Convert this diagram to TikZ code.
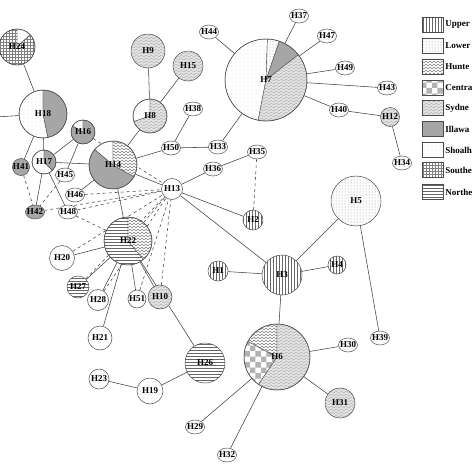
\documentclass[tikz,border=0pt]{standalone}
\usepackage{fontspec}
\setmainfont{Liberation Serif}
\usetikzlibrary{patterns,backgrounds,shapes.geometric,positioning}
\pgfdeclarelayer{pie}
\pgfsetlayers{background,pie,main}

% own fill patterns
\pgfdeclarepatternformonly{sparse dots}{\pgfqpoint{-1pt}{-1pt}}{\pgfqpoint{1pt}{1pt}}{\pgfqpoint{4pt}{4pt}}%
  {\pgfpathcircle{\pgfqpoint{0pt}{0pt}}{.35pt}\pgfusepath{fill}}
\pgfdeclarepatternformonly{zigzag}{\pgfqpoint{0pt}{-.5pt}}{\pgfqpoint{4pt}{3.5pt}}{\pgfqpoint{4pt}{3pt}}%
  {\pgfsetlinewidth{.4pt}\pgfpathmoveto{\pgfqpoint{0pt}{0pt}}\pgfpathlineto{\pgfqpoint{2pt}{2pt}}%
   \pgfpathlineto{\pgfqpoint{4pt}{0pt}}\pgfusepath{stroke}}
\pgfdeclarepatternformonly{waves}{\pgfqpoint{0pt}{-.5pt}}{\pgfqpoint{5pt}{3.5pt}}{\pgfqpoint{5pt}{3pt}}%
  {\pgfsetlinewidth{.35pt}\pgfpathmoveto{\pgfqpoint{0pt}{1pt}}%
   \pgfpathcurveto{\pgfqpoint{1.2pt}{2.4pt}}{\pgfqpoint{1.3pt}{2.4pt}}{\pgfqpoint{2.5pt}{1pt}}%
   \pgfpathcurveto{\pgfqpoint{3.7pt}{-.4pt}}{\pgfqpoint{3.8pt}{-.4pt}}{\pgfqpoint{5pt}{1pt}}\pgfusepath{stroke}}

\tikzset{
  upper/.style={preaction={fill=white}, pattern=vertical lines, pattern color=black!60},
  lower/.style={preaction={fill=white}, pattern=dots, pattern color=black!45},
  hunter/.style={preaction={fill=white}, pattern=zigzag, pattern color=black!50},
  central/.style={preaction={fill=white}, pattern=checkerboard, pattern color=black!30},
  sydney/.style={preaction={fill=black!10}, pattern=waves, pattern color=black!35},
  illa/.style={fill=black!35},
  shoal/.style={preaction={fill=white}, pattern=sparse dots, pattern color=black!40},
  southern/.style={preaction={fill=white}, pattern=grid, pattern color=black!50},
  northern/.style={preaction={fill=white}, pattern=horizontal lines, pattern color=black!60},
}

% one slice of a pie node: node, radius, from, to, fill
\newcommand{\slice}[5]{\path[#5, draw=black!70, line width=.4pt] (#1.center) -- ++(#3:#2)
  arc[start angle=#3, end angle=#4, radius=#2] -- cycle;}

\begin{document}
\begin{tikzpicture}[x=1pt, y=1pt,
    every node/.style={font=\fontsize{9}{9}\selectfont\bfseries},
    hap/.style={circle, draw=black!70, line width=.5pt, inner sep=-1pt, minimum size=2*#1},
    sm/.style={ellipse, draw=black!70, line width=.5pt, inner sep=-2pt, minimum width=19pt, minimum height=14pt},
    link/.style={draw=black!75, line width=.55pt},
    dlink/.style={link, dashed},
    legbox/.style={draw=black!70, line width=.5pt, minimum width=21pt, minimum height=15pt, inner sep=0pt}]
  \useasboundingbox (0,0) rectangle (474,-474);
  \clip (0,0) rectangle (474,-474);

  % pie nodes
  \node[hap=18] (H24) at (17,-47) {H24};
  \node[hap=41] (H7) at (266,-80) {H7};
  \node[hap=17] (H8) at (150,-116) {H8};
  \node[hap=24] (H18) at (43,-114) {H18};
  \node[hap=12] (H16) at (83,-132) {H16};
  \node[hap=12] (H17) at (44,-162) {H17};
  \node[hap=24] (H14) at (113,-165) {H14};
  \node[hap=24] (H22) at (128,-241) {H22};
  \node[hap=33] (H6) at (277,-357) {H6};

  % one-colour nodes
  \node[hap=17, sydney] (H9) at (148,-51) {H9};
  \node[hap=15, sydney] (H15) at (188,-66) {H15};
  \node[sm, shoal] (H44) at (209,-32) {H44};
  \node[sm, shoal] (H37) at (299,-16) {H37};
  \node[sm, shoal] (H47) at (327,-36) {H47};
  \node[sm, shoal] (H49) at (345,-68) {H49};
  \node[sm, shoal] (H43) at (387,-88) {H43};
  \node[sm, shoal] (H40) at (339,-110) {H40};
  \node[hap=9.5, sydney] (H12) at (390,-117) {H12};
  \node[sm, shoal] (H34) at (402,-163) {H34};
  \node[sm, shoal] (H38) at (193,-109) {H38};
  \node[sm, shoal] (H50) at (171,-148) {H50};
  \node[sm, shoal] (H33) at (218,-147) {H33};
  \node[sm, shoal] (H35) at (257,-152) {H35};
  \node[sm, shoal] (H36) at (213,-169) {H36};
  \node[hap=10.5, shoal] (H13) at (172,-189) {H13};
  \node[hap=10, upper] (H2) at (253,-220) {H2};
  \node[hap=20, upper] (H3) at (282,-275) {H3};
  \node[hap=10, upper] (H1) at (218,-271) {H1};
  \node[hap=9, upper] (H4) at (337,-265) {H4};
  \node[hap=25, lower] (H5) at (356,-201) {H5};
  \node[sm, shoal] (H39) at (380,-338) {H39};
  \node[sm, shoal] (H30) at (348,-345) {H30};
  \node[hap=15, sydney] (H31) at (340,-403) {H31};
  \node[sm, shoal] (H29) at (195,-427) {H29};
  \node[sm, shoal] (H32) at (227,-455) {H32};
  \node[hap=20, northern] (H26) at (205,-363) {H26};
  \node[hap=13, shoal] (H19) at (150,-391) {H19};
  \node[hap=10, shoal] (H23) at (99,-379) {H23};
  \node[hap=12, shoal] (H21) at (100,-338) {H21};
  \node[hap=12.5, shoal] (H20) at (62,-258) {H20};
  \node[hap=11, northern] (H27) at (78,-287) {H27};
  \node[hap=10.5, shoal] (H28) at (98,-300) {H28};
  \node[hap=9, shoal] (H51) at (137,-299) {H51};
  \node[hap=12, sydney] (H10) at (160,-297) {H10};
  \node[hap=8.5, illa] (H41) at (21,-167) {H41};
  \node[sm, illa] (H42) at (35,-212) {H42};
  \node[sm, shoal] (H45) at (65,-175) {H45};
  \node[sm, shoal] (H46) at (75,-195) {H46};
  \node[sm, shoal] (H48) at (68,-212) {H48};
  \coordinate (off) at (-4,-117);

  % slices
  \begin{pgfonlayer}{pie}
    \slice{H24}{18pt}{43}{90}{shoal}
    \slice{H24}{18pt}{90}{403}{southern}
    \slice{H7}{41pt}{88}{259}{shoal}
    \slice{H7}{41pt}{71}{88}{lower}
    \slice{H7}{41pt}{38}{71}{illa}
    \slice{H7}{41pt}{-101}{38}{sydney}
    \slice{H8}{17pt}{90}{199}{shoal}
    \slice{H8}{17pt}{199}{450}{sydney}
    \slice{H18}{24pt}{90}{282}{shoal}
    \slice{H18}{24pt}{-78}{90}{illa}
    \slice{H16}{12pt}{90}{150}{shoal}
    \slice{H16}{12pt}{150}{450}{illa}
    \slice{H17}{12pt}{90}{315}{shoal}
    \slice{H17}{12pt}{-45}{90}{illa}
    \slice{H14}{24pt}{90}{140}{shoal}
    \slice{H14}{24pt}{140}{331}{illa}
    \slice{H14}{24pt}{-29}{90}{hunter}
    \slice{H22}{24pt}{90}{310}{northern}
    \slice{H22}{24pt}{-50}{90}{hunter}
    \slice{H6}{33pt}{90}{152}{hunter}
    \slice{H6}{33pt}{152}{236}{central}
    \slice{H6}{33pt}{236}{450}{sydney}
  \end{pgfonlayer}

  % connectors
  \begin{scope}[on background layer]
    \draw[link] (H24) -- (H18);
    \draw[link] (off) -- (H18);
    \draw[link] (H18) -- (H41);
    \draw[link] (H18) -- (H17);
    \draw[link] (H16) -- (H17);
    \draw[link] (H16) -- (H45);
    \draw[link] (H17) -- (H14);
    \draw[link] (H17) -- (H42);
    \draw[link] (H17) -- (H48);
    \draw[link] (H46) -- (H14);
    \draw[link] (H14) -- (H8);
    \draw[link] (H9) -- (H8.center);
    \draw[link] (H15) -- (H8);
    \draw[link] (H14) -- (H50);
    \draw[link] (H50) -- (H38);
    \draw[link] (H50) -- (H33);
    \draw[link] (H33) -- (H7);
    \draw[link] (H7) -- (H44);
    \draw[link] (H7) -- (H37);
    \draw[link] (H7) -- (H47);
    \draw[link] (H7) -- (H49);
    \draw[link] (H7) -- (H43);
    \draw[link] (H7) -- (H40);
    \draw[link] (H40) -- (H12);
    \draw[link] (H12) -- (H34);
    \draw[link] (H14) -- (H13);
    \draw[link] (H14) -- (H22);
    \draw[link] (H13) -- (H36);
    \draw[link] (H36) -- (H35);
    \draw[link] (H13) -- (H2);
    \draw[link] (H13) -- (H3);
    \draw[link] (H3) -- (H1);
    \draw[link] (H3) -- (H4);
    \draw[link] (H3) -- (H5);
    \draw[link] (H5) -- (H39);
    \draw[link] (H3) -- (H6);
    \draw[link] (H6) -- (H30);
    \draw[link] (H6) -- (H31);
    \draw[link] (H6) -- (H29);
    \draw[link] (H6) -- (H32);
    \draw[link] (H22) -- (H20);
    \draw[link] (H22) -- (H27);
    \draw[link] (H22) -- (H28);
    \draw[link] (H22) -- (H21);
    \draw[link] (H22) -- (H51);
    \draw[link] (H22) -- (H10);
    \draw[link] (H22) -- (H26);
    \draw[link] (H26) -- (H19);
    \draw[link] (H19) -- (H23);
    % alternative links
    \draw[dlink] (H35) -- (H2);
    \draw[dlink] (H41) -- (H42);
    \draw[dlink] (H45) -- (H42);
    \draw[dlink] (H48) -- (H22);
    \draw[dlink] (H16) -- (H13);
    \draw[dlink] (H46) -- (H13);
    \draw[dlink] (H48) -- (H13);
    \draw[dlink] (H42) -- (H13);
    \draw[dlink] (H22) -- (H13);
    \draw[dlink] (H20) -- (H13);
    \draw[dlink] (H27) -- (H13);
    \draw[dlink] (H28) -- (H13);
    \draw[dlink] (H51) -- (H13);
    \draw[dlink] (H10) -- (H13);
  \end{scope}

  % legend
  \node[legbox, upper] (lupper) at (432.5,-25) {};
  \node[legbox, lower] (llower) at (432.5,-46) {};
  \node[legbox, hunter] (lhunter) at (432.5,-67) {};
  \node[legbox, central] (lcentral) at (432.5,-88) {};
  \node[legbox, sydney] (lsydney) at (432.5,-108) {};
  \node[legbox, illa] (lilla) at (432.5,-129) {};
  \node[legbox, shoal] (lshoal) at (432.5,-150) {};
  \node[legbox, southern] (lsouth) at (432.5,-170) {};
  \node[legbox, northern] (lnorth) at (432.5,-192) {};
  \node[right=2pt of lupper, inner sep=0pt] {Upper};
  \node[right=2pt of llower, inner sep=0pt] {Lower};
  \node[right=2pt of lhunter, inner sep=0pt] {Hunte};
  \node[right=2pt of lcentral, inner sep=0pt] {Centra};
  \node[right=2pt of lsydney, inner sep=0pt] {Sydne};
  \node[right=2pt of lilla, inner sep=0pt] {Illawa};
  \node[right=2pt of lshoal, inner sep=0pt] {Shoalh};
  \node[right=2pt of lsouth, inner sep=0pt] {Southe};
  \node[right=2pt of lnorth, inner sep=0pt] {Northe};
\end{tikzpicture}
\end{document}
